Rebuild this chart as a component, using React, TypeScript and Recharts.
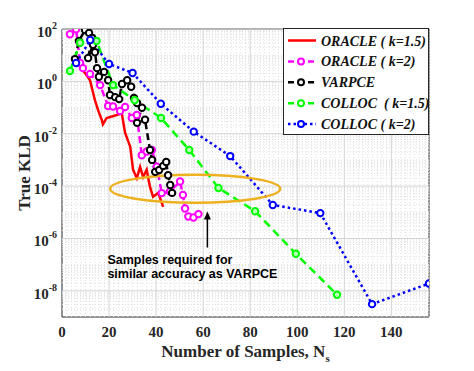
import { LineChart, Line, XAxis, YAxis, ReferenceLine, ReferenceDot, ReferenceArea, Legend } from 'recharts';

// Number of samples vs true KLD
const oracle15X = [7.7, 10.5, 11.9, 14.0, 15.3, 16.9, 17.4, 19.0, 23.3, 25.4, 26.8, 29.0, 30.2, 31.8, 33.2, 34.5, 36.0, 37.4, 38.7, 40.9, 43.0];
const oracle15Y = [3.6, 1.7, 1.1, 0.19, 0.081, 0.034, 0.023, 0.04, 0.052, 0.062, 0.011, 0.0032, 4.2e-4, 2.0e-4, 5.4e-4, 2.2e-4, 4.2e-4, 9.3e-5, 3.9e-5, 5.5e-5, 1.6e-5];

const oracle2X = [3.4, 6.0, 7.7, 8.9, 11.9, 16.2, 19.6, 21.7, 24.7, 26.8, 29.7, 31.8, 33.9, 36.0, 38.2, 40.3, 42.4, 45.9, 50.2, 51.4, 52.3, 53.7, 55.9, 58.0];
const oracle2Y = [63, 98, 5.0, 3.2, 1.9, 0.72, 0.115, 0.11, 0.074, 0.105, 0.04, 0.052, 0.0015, 0.0021, 0.0024, 5.5e-4, 5.4e-5, 6.2e-5, 1.5e-4, 4.6e-5, 1.4e-5, 6.9e-6, 6.3e-6, 8.5e-6];

const varpceX = [5.5, 7.2, 9.8, 11.5, 12.8, 11.1, 13.2, 14.0, 14.9, 15.7, 17.9, 19.6, 20.4, 22.6, 24.3, 25.5, 27.7, 29.4, 30.6, 31.9, 34.0, 31.9, 35.3, 37.4, 38.3, 39.6, 41.3, 43.0, 44.3, 45.1, 46.0, 46.8];
const varpceY = [7.1, 35, 91, 71, 46, 7.8, 25, 13, 3.2, 1.5, 2.3, 1.1, 0.3, 0.25, 0.21, 0.79, 1.1, 0.62, 0.23, 0.15, 0.098, 0.026, 0.034, 0.0024, 0.001, 3.5e-4, 4.1e-4, 5.9e-4, 8.3e-4, 2.6e-4, 1.1e-4, 5.5e-5];

const colloc15X = [3.4, 7.7, 14.7, 21.7, 30.9, 42.1, 54.1, 66.5, 82.1, 99.4, 116.9];
const colloc15Y = [2.5, 30, 35, 0.72, 0.19, 0.04, 0.0024, 8.5e-5, 1.1e-5, 2.6e-7, 7.1e-9];

const colloc2X = [6, 12, 20, 30, 42, 56, 71.5, 89.6, 109.8, 131.8, 156];
const colloc2Y = [5.0, 38, 4.6, 2.1, 0.14, 0.012, 0.0014, 1.9e-5, 9.3e-6, 3.1e-9, 1.9e-8];

const xTicks = [0, 20, 40, 60, 80, 100, 120, 140];
const yTicks = [1e-8, 1e-6, 1e-4, 1e-2, 1, 1e2];
const xMinor = Array.from({ length: 78 }, (_, i) => (i + 1) * 2).filter((v) => v % 20 !== 0);
const yMinor: number[] = [];
for (let k = -9; k <= 1; k++) {
  for (let m = 1; m <= 9; m++) {
    const v = m * Math.pow(10, k);
    if (m === 1 && k % 2 === 0) continue;
    if (v > 1e-9 && v < 100) yMinor.push(v);
  }
}

const toPoints = (xs: number[], ys: number[]) => xs.map((x, i) => ({ x, y: ys[i] }));

const legendItems = [
  { name: 'ORACLE ( k=1.5)', color: '#ff0000', dash: undefined, marker: false },
  { name: 'ORACLE ( k=2)', color: '#ff00ff', dash: '6 4', marker: true },
  { name: 'VARPCE', color: '#000000', dash: '6 4', marker: true },
  { name: 'COLLOC  ( k=1.5)', color: '#00ff00', dash: '6 4', marker: true },
  { name: 'COLLOC ( k=2)', color: '#0000ff', dash: '2.5 3', marker: true },
];

const serif = '"Liberation Serif", "Times New Roman", serif';
const axisColor = '#262626';

const YTick = ({ x, y, payload }: any) => {
  const exp = Math.round(Math.log10(payload.value));
  return (
    <text x={x} y={y} textAnchor="end" fontFamily={serif} fontWeight="bold" fontSize={15} fill={axisColor}>
      <tspan dy={8}>10</tspan>
      <tspan dy={-8} fontSize={10}>{exp}</tspan>
    </text>
  );
};

const XTick = ({ x, y, payload }: any) => (
  <text x={x} y={y} dy={14} textAnchor="middle" fontFamily={serif} fontWeight="bold" fontSize={15} fill={axisColor}>
    {payload.value}
  </text>
);

const XTitle = ({ viewBox }: any) => (
  <text x={viewBox.x + viewBox.width / 2} y={viewBox.y + 40} textAnchor="middle" fontFamily={serif} fontWeight="bold" fontSize={17} fill={axisColor}>
    Number of Samples, N<tspan dy={5} fontSize={11}>s</tspan>
  </text>
);

const YTitle = ({ viewBox }: any) => {
  const cx = 30;
  const cy = viewBox.y + viewBox.height / 2;
  return (
    <text x={cx} y={cy} transform={`rotate(-90 ${cx} ${cy})`} textAnchor="middle" fontFamily={serif} fontWeight="bold" fontSize={17} fill={axisColor}>
      True KLD
    </text>
  );
};

const marker = (color: string, fill: string) => (p: any) => (
  <circle key={p.index} cx={p.cx} cy={p.cy} r={3.2} stroke={color} strokeWidth={2} fill={fill} />
);

const LegendBox = () => (
  <svg width={146} height={107} style={{ display: 'block' }}>
    <rect x={0.5} y={0.5} width={145} height={106} fill="#fff" stroke={axisColor} />
    {legendItems.map((it, i) => {
      const y = 12.5 + i * 20.9;
      return (
        <g key={it.name}>
          <line x1={5} x2={33} y1={y} y2={y} stroke={it.color} strokeWidth={2.5} strokeDasharray={it.dash} />
          {it.marker && <circle cx={18} cy={y} r={3} stroke={it.color} strokeWidth={2} fill="#fff" />}
          <text x={38} y={y + 5} fontFamily={serif} fontWeight="bold" fontStyle="italic" fontSize={14} fill="#111" style={{ whiteSpace: 'pre' }}>
            {it.name}
          </text>
        </g>
      );
    })}
  </svg>
);

const Ellipse = (p: any) => (
  <ellipse cx={p.cx} cy={p.cy} rx={85} ry={14} fill="none" stroke="#edb120" strokeWidth={2.5} />
);

const Note = (p: any) => (
  <g>
    <line x1={p.cx} x2={p.cx} y1={p.cy + 36} y2={p.cy + 4} stroke="#000" strokeWidth={1.5} />
    <path d={`M ${p.cx} ${p.cy} L ${p.cx - 3.5} ${p.cy + 8} L ${p.cx + 3.5} ${p.cy + 8} Z`} fill="#000" />
    <text x={p.cx - 100} y={p.cy + 52} fontFamily='"Liberation Sans", Arial, sans-serif' fontWeight="bold" fontSize={12.5} fill="#000">
      Samples required for
    </text>
    <text x={p.cx - 100} y={p.cy + 66} fontFamily='"Liberation Sans", Arial, sans-serif' fontWeight="bold" fontSize={12.5} fill="#000">
      similar accuracy as VARPCE
    </text>
  </g>
);

export default function App() {
  return (
    <div style={{ position: 'absolute', left: 0, top: 0, background: '#fff' }}>
      <LineChart width={474} height={371} margin={{ top: 29, right: 45, bottom: 0, left: 0 }}>
        <XAxis
          type="number"
          dataKey="x"
          domain={[0, 156]}
          ticks={xTicks}
          allowDataOverflow
          axisLine={false}
          tickLine={false}
          tickSize={4}
          tickMargin={2}
          height={54}
          tick={<XTick />}
          label={<XTitle />}
        />
        <YAxis
          type="number"
          dataKey="y"
          scale="log"
          domain={[1e-9, 100]}
          ticks={yTicks}
          allowDataOverflow
          axisLine={false}
          tickLine={false}
          tickSize={4}
          tickMargin={1}
          width={62}
          tick={<YTick />}
          label={<YTitle />}
        />
        {xMinor.map((v) => (
          <ReferenceLine key={`xm${v}`} x={v} stroke="#e0e0e0" strokeDasharray="1 2" />
        ))}
        {yMinor.map((v, i) => (
          <ReferenceLine key={`ym${i}`} y={v} stroke="#e0e0e0" strokeDasharray="1 2" />
        ))}
        {xTicks.slice(1).map((v) => (
          <ReferenceLine key={`xg${v}`} x={v} stroke="#d4d4d4" />
        ))}
        {yTicks.map((v) => (
          <ReferenceLine key={`yg${v}`} y={v} stroke="#d4d4d4" />
        ))}
        <ReferenceDot x={56.6} y={7.9e-5} r={0} shape={Ellipse} />
        <Line data={toPoints(oracle15X, oracle15Y)} dataKey="y" stroke="#ff0000" strokeWidth={2.5} dot={false} isAnimationActive={false} />
        <Line data={toPoints(oracle2X, oracle2Y)} dataKey="y" stroke="#ff00ff" strokeWidth={2.5} strokeDasharray="7 4" dot={marker('#ff00ff', '#fff')} isAnimationActive={false} />
        <Line data={toPoints(varpceX, varpceY)} dataKey="y" stroke="#000000" strokeWidth={2.5} strokeDasharray="7 4" dot={marker('#000000', '#fff')} isAnimationActive={false} />
        <Line data={toPoints(colloc15X, colloc15Y)} dataKey="y" stroke="#00ff00" strokeWidth={2.5} strokeDasharray="8 5" dot={marker('#00ff00', '#b8ffb8')} isAnimationActive={false} />
        <Line data={toPoints(colloc2X, colloc2Y)} dataKey="y" stroke="#0000ff" strokeWidth={2.5} strokeDasharray="2.5 3" dot={marker('#0000ff', '#fff')} isAnimationActive={false} />
        <ReferenceDot x={61.8} y={1.07e-5} r={0} shape={Note} />
        <ReferenceArea x1={0} x2={156} y1={1e-9} y2={100} fill="none" stroke={axisColor} strokeWidth={1} />
        <Legend
          layout="vertical"
          align="center"
          verticalAlign="middle"
          content={<LegendBox />}
          wrapperStyle={{ position: 'absolute', left: 283, top: 28, width: 146, height: 107 }}
        />
      </LineChart>
    </div>
  );
}
